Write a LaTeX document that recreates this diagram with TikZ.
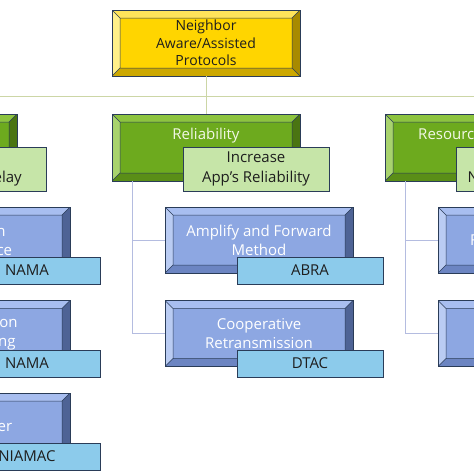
\documentclass[tikz,border=0pt]{standalone}
\usepackage{fontspec}
\setmainfont{Open Sans}
\usetikzlibrary{calc}
\definecolor{edgec}{HTML}{2A3C58}
\definecolor{yface}{HTML}{FFD500}
\definecolor{ytop}{HTML}{FFE45A}
\definecolor{yleft}{HTML}{FFF08A}
\definecolor{ybot}{HTML}{CCA800}
\definecolor{yright}{HTML}{A88A00}
\definecolor{gface}{HTML}{6DAA1E}
\definecolor{gtop}{HTML}{8DC43F}
\definecolor{gleft}{HTML}{A8D36E}
\definecolor{gbot}{HTML}{5A8E17}
\definecolor{gright}{HTML}{4A7412}
\definecolor{bface}{HTML}{8DA7E2}
\definecolor{btop}{HTML}{A8BEF0}
\definecolor{bleft}{HTML}{BACCF3}
\definecolor{bbot}{HTML}{6C85C2}
\definecolor{bright}{HTML}{4E6395}
\definecolor{lgfill}{HTML}{C6E5A8}
\definecolor{lbfill}{HTML}{8CCBEB}
\definecolor{buscol}{HTML}{CCD6A6}
\definecolor{brcol}{HTML}{B4BCE0}
\definecolor{darktext}{HTML}{1E1E1E}
\definecolor{gtext}{HTML}{F2F8E6}
\tikzset{
  bevbox/.style n args={5}{rectangle, inner sep=0pt, minimum width=188pt,
    minimum height=66pt, fill=#1, draw=edgec, line width=0.9pt, align=center,
    path picture={
      \coordinate (pnw) at (path picture bounding box.north west);
      \coordinate (pse) at (path picture bounding box.south east);
      \coordinate (pne) at (pnw -| pse);
      \coordinate (psw) at (pnw |- pse);
      \coordinate (inw) at ($(pnw)+(8pt,-8pt)$);
      \coordinate (ine) at ($(pne)+(-8pt,-8pt)$);
      \coordinate (ise) at ($(pse)+(-8pt,8pt)$);
      \coordinate (isw) at ($(psw)+(8pt,8pt)$);
      \fill[#2] (pnw)--(pne)--(ine)--(inw)--cycle;
      \fill[#3] (pnw)--(psw)--(isw)--(inw)--cycle;
      \fill[#4] (psw)--(pse)--(ise)--(isw)--cycle;
      \fill[#5] (pne)--(pse)--(ise)--(ine)--cycle;
      \draw[edgec, line width=0.5pt] (inw) rectangle (ise)
        (pnw)--(inw) (pne)--(ine) (pse)--(ise) (psw)--(isw);
    }},
  yelbox/.style={bevbox={yface}{ytop}{yleft}{ybot}{yright}, text=darktext,
    font=\fontsize{14}{17.5}\selectfont},
  grnbox/.style={bevbox={gface}{gtop}{gleft}{gbot}{gright}, minimum height=67pt},
  blubox/.style={bevbox={bface}{btop}{bleft}{bbot}{bright}, text=white,
    font=\fontsize{15}{19}\selectfont},
  gtitle/.style={text=gtext, font=\fontsize{15}{19}\selectfont, inner sep=0pt},
  lgbox/.style={rectangle, fill=lgfill, draw=edgec, line width=0.9pt,
    minimum width=146pt, minimum height=44pt, inner sep=0pt, align=center,
    text=darktext, font=\fontsize{15}{20}\selectfont},
  lbbox/.style={rectangle, fill=lbfill, draw=edgec, line width=0.9pt,
    minimum width=146pt, minimum height=27pt, inner sep=0pt, align=center,
    text=darktext, font=\fontsize{15}{19}\selectfont},
  bus/.style={draw=buscol, line width=1pt},
  branch/.style={draw=brcol, line width=1pt},
}
\begin{document}
\begin{tikzpicture}[x=1pt, y=-1pt]
\useasboundingbox (0,0) rectangle (474,474);
\fill[white] (0,0) rectangle (474,474);
\coordinate (bus) at (0,96);
% top
\node[yelbox] (top) at (206,43) {Neighbor\\Aware/Assisted\\Protocols};
% level 1
\node[grnbox] (lg) at (-77,147.5) {};
\node[grnbox] (rel) at (206,147.5) {};
\node[grnbox] (res) at (479,147.5) {};
\node[gtitle] (lgt) at ([yshift=-22pt]lg.north) {Throughput};
\node[gtitle] (relt) at ([yshift=-22pt]rel.north) {Reliability};
\node[gtitle] (rest) at ([yshift=-22pt]res.north) {Resource Sharing};
% bus
\draw[bus] (top.south) -- (top.south |- bus);
\draw[bus] (lg.north |- bus) -- (res.north |- bus);
\draw[bus] (lg.north) -- (lg.north |- bus);
\draw[bus] (rel.north) -- (rel.north |- bus);
\draw[bus] (res.north) -- (res.north |- bus);
% blue boxes
\node[blubox] (l1) at (-24,240) {Collision\\Avoidance};
\node[blubox] (l2) at (-24,333.5) {Information\\Forwarding};
\node[blubox] (l3) at (-24,426) {Forwarder};
\node[blubox] (amp) at (259,240) {Amplify and Forward\\Method};
\node[blubox] (coop) at (259,333.5) {Cooperative\\Retransmission};
\node[blubox] (r1) at (532,240) {Fair Media Access};
\node[blubox] (r2) at (532,333.5) {Power Control};
% branches
\draw[branch] ([xshift=21pt]lg.south west) |- (l1.west);
\draw[branch] ([xshift=21pt]lg.south west) |- (l2.west);
\draw[branch] ([xshift=21pt]lg.south west) |- (l3.west);
\draw[branch] ([xshift=21pt]rel.south west) |- (amp.west);
\draw[branch] ([xshift=21pt]rel.south west) |- (coop.west);
\draw[branch] ([xshift=21pt]res.south west) |- (r1.west);
\draw[branch] ([xshift=21pt]res.south west) |- (r2.west);
% light green
\node[lgbox] (lgs) at (-27,169) {Select\\Efficient Relay};
\node[lgbox] (rels) at (256,169) {Increase\\App’s Reliability};
\node[lgbox] (ress) at (529,169) {Increase\\Network Capacity};
% light blue
\node[lbbox] (l1s) at (27,270.5) {NAMA};
\node[lbbox] (l2s) at (27,363.5) {NAMA};
\node[lbbox] (l3s) at (27,456.5) {NIAMAC};
\node[lbbox] (amps) at (310,270.5) {ABRA};
\node[lbbox] (coops) at (310,363.5) {DTAC};
\end{tikzpicture}
\end{document}
